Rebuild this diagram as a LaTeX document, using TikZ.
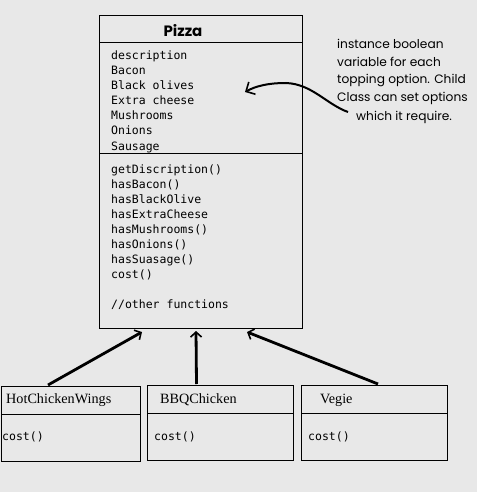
\documentclass[tikz,border=0pt]{standalone}
\usepackage{fontspec}
\setmonofont{DejaVu Sans Mono}
\newfontfamily\namefont{Liberation Serif}
\newfontfamily\titlefont{Poppins}
\newfontfamily\notefont{Poppins}
\usetikzlibrary{arrows.meta,positioning}
\definecolor{umlbg}{RGB}{232,232,232}

\begin{document}
\begin{tikzpicture}[x=1pt,y=-1pt,
    part/.style={draw,line width=1pt,inner sep=0pt,outer sep=0pt,anchor=north west},
    member/.style={font=\ttfamily\fontsize{11.5}{13}\selectfont,anchor=base west,inner sep=0pt},
    classname/.style={font=\namefont\fontsize{14.2}{16}\selectfont,anchor=base west,inner sep=0pt},
    notetext/.style={font=\notefont\fontsize{12.2}{14}\selectfont,anchor=base west,inner sep=0pt},
    inherit/.style={line width=2.8pt,-{Straight Barb[length=5pt,width=11pt,line width=1.6pt]}},
    pointer/.style={line width=2pt,-{Straight Barb[length=7pt,width=14pt,line width=1.6pt]}}]
    \useasboundingbox[fill=umlbg] (0,0) rectangle (477,492);
    % Pizza class
    \node[part,minimum width=203pt,minimum height=27pt] (pizzahead) at (99,16) {};
    \node[part,minimum width=203pt,minimum height=110pt,below=0pt of pizzahead] (pizzaattr) {};
    \node[part,minimum width=203pt,minimum height=175pt,below=0pt of pizzaattr] (pizzaops) {};
    \node[font=\titlefont\bfseries\fontsize{15}{17}\selectfont,inner sep=0pt] (title) at (183,31) {Pizza};
    \foreach \attr [count=\i] in {description,Bacon,Black olives,Extra cheese,Mushrooms,Onions,Sausage}
      \node[member] (attr\i) at (111,{60+15*(\i-1)}) {\attr};
    \foreach \op [count=\i] in {getDiscription(),hasBacon(),hasBlackOlive,hasExtraCheese,hasMushrooms(),hasOnions(),hasSuasage(),cost()}
      \node[member] (op\i) at (111,{173+15*(\i-1)}) {\op};
    \node[member] (other) at (111,308) {//other functions};
    % note
    \foreach \line [count=\i] in {instance boolean,variable for each,topping option. Child,Class can set options}
      \node[notetext] (note\i) at (337,{49+17.5*(\i-1)}) {\line};
    \node[notetext] (note5) at (356,121) {which it require.};
    \coordinate (notestart) at (348,112);
    \coordinate (notetip) at (245,92);
    \draw[pointer] (notestart) .. controls (326,104) and (312,84) .. (286,83)
      .. controls (268,83) and (256,86) .. (notetip);
    % subclasses
    \node[part,minimum width=139pt,minimum height=28pt] (hothead) at (1,386) {};
    \node[part,minimum width=139pt,minimum height=47pt,below=0pt of hothead] (hotbody) {};
    \node[part,minimum width=146pt,minimum height=28pt] (bbqhead) at (147,385) {};
    \node[part,minimum width=146pt,minimum height=47pt,below=0pt of bbqhead] (bbqbody) {};
    \node[part,minimum width=146pt,minimum height=28pt] (vegiehead) at (301,385) {};
    \node[part,minimum width=146pt,minimum height=47pt,below=0pt of vegiehead] (vegiebody) {};
    \node[classname] (hotname) at (6,403) {HotChickenWings};
    \node[classname] (bbqname) at (160,403) {BBQChicken};
    \node[classname] (vegiename) at (320,403) {Vegie};
    \node[member] (hotcost) at (2,440) {cost()};
    \node[member] (bbqcost) at (154,440) {cost()};
    \node[member] (vegiecost) at (308,440) {cost()};
    % inheritance
    \coordinate (hotup) at (48,385);
    \coordinate (bbqup) at (196.5,384);
    \coordinate (vegieup) at (378,384);
    \coordinate (hottip) at (142,332);
    \coordinate (bbqtip) at (196,331);
    \coordinate (vegietip) at (247,332);
    \draw[inherit] (hotup) -- (hottip);
    \draw[inherit] (bbqup) -- (bbqtip);
    \draw[inherit] (vegieup) -- (vegietip);
\end{tikzpicture}
\end{document}
